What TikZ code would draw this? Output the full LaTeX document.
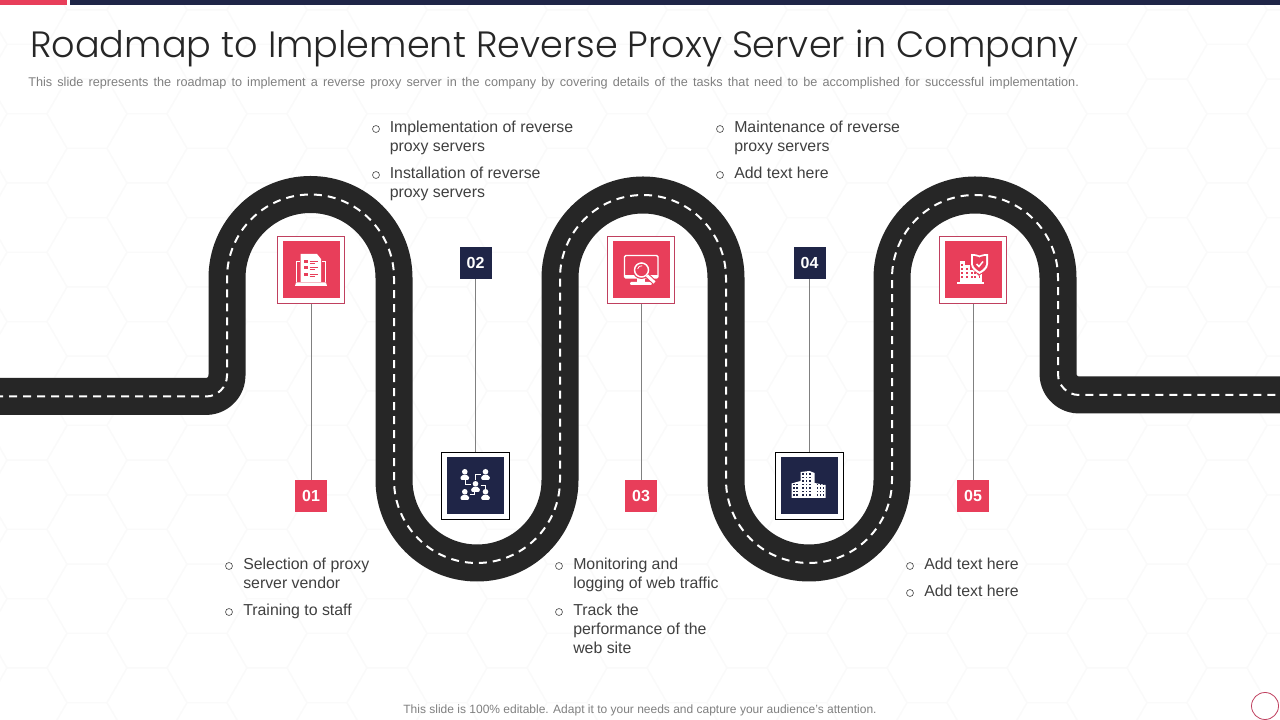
\documentclass[tikz,border=0pt]{standalone}
\usepackage{fontspec}
\setmainfont{Liberation Sans}
\newfontfamily\titlefont{Poppins Light}
\definecolor{roadc}{HTML}{262626}
\definecolor{redc}{HTML}{E83E5A}
\definecolor{navyc}{HTML}{1F2547}
\definecolor{textc}{HTML}{404040}
\definecolor{subc}{HTML}{808080}
\definecolor{hexc}{HTML}{FAFAFA}
\definecolor{ringc}{HTML}{C0405F}
\tikzset{
  x=0.75pt,y=0.75pt,
  hexline/.style={draw=hexc,line width=0.75pt},
  roadline/.style={draw=roadc,line width=27.75pt,line join=round},
  roaddash/.style={draw=white,line width=1.5pt,dash pattern=on 6pt off 4.5pt},
  iconframe/.style={draw,line width=0.6pt,fill=white,minimum size=50.5pt,inner sep=0pt,outer sep=0pt},
  redframe/.style={iconframe,draw=ringc},
  navyframe/.style={iconframe,draw=black},
  inner/.style={minimum size=42.75pt,inner sep=0pt,outer sep=0pt},
  badge/.style={minimum size=24pt,inner sep=0pt,outer sep=0pt,text=white,font=\fontsize{12}{12}\selectfont\bfseries},
  stem/.style={draw=subc,line width=0.6pt},
  bul/.style={circle,draw=textc,line width=0.45pt,minimum size=5.2pt,inner sep=0pt},
  item/.style={anchor=north west,align=left,inner sep=0pt,text=textc,font=\fontsize{11.9}{14.25}\selectfont},
  ic/.style={fill=white,draw=none},
  icl/.style={draw=white,line width=0.75pt,fill=none},
}
\begin{document}
\begin{tikzpicture}
\useasboundingbox (0,0) rectangle (1280,720);
\fill[white] (0,0) rectangle (1280,720);
% faint honeycomb
\foreach \i in {-21,...,1}{
 \foreach \j in {-1,...,11}{
  \pgfmathsetmacro{\cx}{1227+60*\i}
  \pgfmathsetmacro{\cy}{17.4+69.28*\j+(isodd(\i)?34.64:0)}
  \draw[hexline] (\cx-40,\cy) -- (\cx-20,\cy+34.64) -- (\cx+20,\cy+34.64) -- (\cx+40,\cy) -- (\cx+20,\cy-34.64) -- (\cx-20,\cy-34.64) -- cycle;
 }}
% top bars
\fill[redc] (0,715) rectangle (67,720);
\fill[navyc] (70,715) rectangle (1280,720);
% title
\node[anchor=base west,inner sep=0pt,text=roadc] (title) at (30,662.5) {\titlefont\fontsize{27.45}{30}\selectfont Roadmap to Implement Reverse Proxy Server in Company};
\node[anchor=base west,inner sep=0pt,text=subc] (sub) at (28,633) {\fontsize{9.5}{11}\selectfont\makebox[788pt][s]{This slide represents the roadmap to implement a reverse  proxy server  in the company by covering  details of the tasks that need to be accomplished for  successful implementation.}};
% road
\def\roadpath{(-5,323.5) -- (206,323.5) arc[start angle=-90,end angle=0,radius=21] -- (227,442) arc[start angle=180,end angle=0,radius=83.5] -- (394,240) arc[start angle=180,end angle=360,radius=83] -- (560,442) arc[start angle=180,end angle=0,radius=83] -- (726,240) arc[start angle=180,end angle=360,radius=83] -- (892,442) arc[start angle=180,end angle=0,radius=83] -- (1058,346) arc[start angle=180,end angle=270,radius=21] -- (1285,325)}
\draw[roadline] \roadpath;
\draw[roaddash] \roadpath;
% icon boxes
\node[redframe] (f1) at (311,450) {};
\node[navyframe] (f2) at (475.5,234) {};
\node[redframe] (f3) at (641,450) {};
\node[navyframe] (f4) at (809.5,234) {};
\node[redframe] (f5) at (973,450) {};
\node[inner,fill=redc] (i1) at (f1.center) {};
\node[inner,fill=navyc] (i2) at (f2.center) {};
\node[inner,fill=redc] (i3) at (f3.center) {};
\node[inner,fill=navyc] (i4) at (f4.center) {};
\node[inner,fill=redc] (i5) at (f5.center) {};
% badges
\node[badge,fill=redc] (b1) at (311,224) {01};
\node[badge,fill=navyc] (b2) at (475.5,457) {02};
\node[badge,fill=redc] (b3) at (641,224) {03};
\node[badge,fill=navyc] (b4) at (809.5,457) {04};
\node[badge,fill=redc] (b5) at (973,224) {05};
\draw[stem] (f1.south) -- (b1.north);
\draw[stem] (b2.south) -- (f2.north);
\draw[stem] (f3.south) -- (b3.north);
\draw[stem] (b4.south) -- (f4.north);
\draw[stem] (f5.south) -- (b5.north);
% icon 1
\begin{scope}[shift={(i1.center)}]
 \fill[ic] (-16,-16) -- (16,-16) -- (15,-12.5) -- (-15,-12.5) -- cycle;
 \draw[icl] (-14.5,-12) -- (-14.5,8) -- (-11,8);
 \draw[icl] (14.5,-12) -- (14.5,8) -- (10.5,8);
 \fill[ic] (-10.5,-12) -- (-10.5,16) -- (6,16) -- (10,11) -- (10,-12) -- cycle;
 \foreach \y in {8,2,-5}{
  \fill[redc] (-7,\y-1.5) rectangle (-3.5,\y+1.5);
  \draw[redc,line width=.7pt] (-1.5,\y+1) -- (7,\y+1);
  \draw[redc,line width=.7pt] (-1.5,\y-1) -- (4,\y-1);
 }
\end{scope}
% icon 2
\begin{scope}[shift={(i2.center)}]
 \draw[icl,line width=.6pt] (-6,-8) -- (-1,-8) -- (-1,-4);
 \draw[icl,line width=.6pt] (-10,6) -- (-10,2) -- (-5,2);
 \draw[icl,line width=.6pt] (0,6) -- (0,12) -- (5,12);
 \draw[icl,line width=.6pt] (5,1) -- (10,1) -- (10,-3);
 \foreach \px/\py in {-10.7/11,10/11,0/-1,-10.7/-9,10/-9}{
  \fill[ic] (\px,\py+3.2) circle (2.8);
  \fill[ic,rounded corners=1.5pt] (\px-4.5,\py-5) -- (\px-4,\py) -- (\px+4,\py) -- (\px+4.5,\py-5) -- cycle;
 }
\end{scope}
% icon 3
\begin{scope}[shift={(i3.center)}]
 \draw[draw=white,line width=1pt,rounded corners=1pt] (-16.5,-8) rectangle (17,14.5);
 \fill[ic] (-16.5,-8) rectangle (17,-5.5);
 \fill[ic] (-4,-8) rectangle (4,-12);
 \fill[ic,rounded corners=.8pt] (-11,-15) rectangle (11,-12);
 \fill[redc] (0.5,0) circle (9);
 \draw[draw=white,line width=1.1pt] (0.5,0) circle (7);
 \draw[draw=white,line width=.6pt] (-3.4,1) arc[start angle=170,end angle=80,radius=4];
 \draw[draw=redc,line width=3.8pt] (6,-5.5) -- (14,-13);
 \draw[draw=white,line width=2.2pt] (6,-5.5) -- (13.5,-12.5);
\end{scope}
% icon 4
\begin{scope}[shift={(i4.center)}]
 \fill[ic] (-18,-12) -- (-18,2.5) -- (-9,5) -- (-9,14) -- (0,15) -- (5,13) -- (5,3) -- (16,1) -- (16,-12) -- cycle;
 \foreach \x in {-15.5,-12.5,-6.5,-3,0.5,8,11,14}{
  \foreach \y in {-9,-5.5,-2,1.5}{
    \fill[navyc] (\x-.6,\y-.7) rectangle (\x+.6,\y+.7);
  }}
 \foreach \x in {-6.5,-3,0.5}{
  \foreach \y in {5,8.5,12}{
    \fill[navyc] (\x-.6,\y-.7) rectangle (\x+.6,\y+.7);
  }}
\end{scope}
% icon 5
\begin{scope}[shift={(i5.center)}]
 \fill[ic] (-16,-14.5) rectangle (11,-12);
 \fill[ic] (-13,-12) rectangle (-8,9);
 \fill[ic] (-8,-12) rectangle (-3,5);
 \fill[ic] (-3,-12) rectangle (4,0);
 \fill[ic] (4,-12) rectangle (9,-4);
 \foreach \x/\y in {-11/5,-11/1,-11/-3,-11/-7,-6/1,-6/-3,-6/-7,-1/-3,2/-3,-1/-7,2/-7,6.5/-7}{
  \fill[redc] (\x-.9,\y-.9) rectangle (\x+.9,\y+.9);
 }
 \fill[redc] (-3,17) -- (16,17) -- (16,3) -- (6,-6) -- (-3,3) -- cycle;
 \fill[ic] (-2,16) .. controls (2,16) and (4,15.5) .. (6.5,14.5) .. controls (9,15.5) and (11,16) .. (15,16) -- (15,6) .. controls (15,1) and (10,-2) .. (6.5,-4) .. controls (3,-2) and (-2,1) .. (-2,6) -- cycle;
 \fill[redc] (0,14) .. controls (3,14) and (5,13.5) .. (6.5,12.5) .. controls (8,13.5) and (10,14) .. (13,14) -- (13,6) .. controls (13,3) and (9,0) .. (6.5,-1.5) .. controls (4,0) and (0,3) .. (0,6) -- cycle;
 \draw[draw=white,line width=1.1pt] (3.5,6) -- (6,3.5) -- (10,8.5);
\end{scope}
% text blocks
\node[bul] (d1a) at (229,154) {};
\node[item] (t1a) at (243,161.8) {Selection of proxy\\server vendor};
\node[bul] (d1b) at (229,108) {};
\node[item] (t1b) at (243,115.8) {Training to staff};
\node[bul] (d2a) at (376,591) {};
\node[item] (t2a) at (389.5,598.8) {Implementation  of reverse\\proxy servers};
\node[bul] (d2b) at (376,545) {};
\node[item] (t2b) at (389.5,552.8) {Installation  of reverse\\proxy servers};
\node[bul] (d3a) at (559,154) {};
\node[item] (t3a) at (573,161.8) {Monitoring and\\logging of web traffic};
\node[bul] (d3b) at (559,108) {};
\node[item] (t3b) at (573,115.8) {Track the\\performance of the\\web site};
\node[bul] (d4a) at (720,591) {};
\node[item] (t4a) at (734,598.8) {Maintenance  of reverse\\proxy servers};
\node[bul] (d4b) at (720,545) {};
\node[item] (t4b) at (734,552.8) {Add text here};
\node[bul] (d5a) at (910,154) {};
\node[item] (t5a) at (924,161.8) {Add text here};
\node[bul] (d5b) at (910,127) {};
\node[item] (t5b) at (924,134.8) {Add text here};
% footer
\node[anchor=base,inner sep=0pt,text=subc] (foot) at (640,6) {\fontsize{9}{11}\selectfont This slide is 100\% editable. Adapt it to your needs and capture your audience's attention.};
\node[circle,draw=ringc,fill=white,line width=0.6pt,minimum size=20.25pt,inner sep=0pt] (ring) at (1265,14) {};
\end{tikzpicture}
\end{document}
